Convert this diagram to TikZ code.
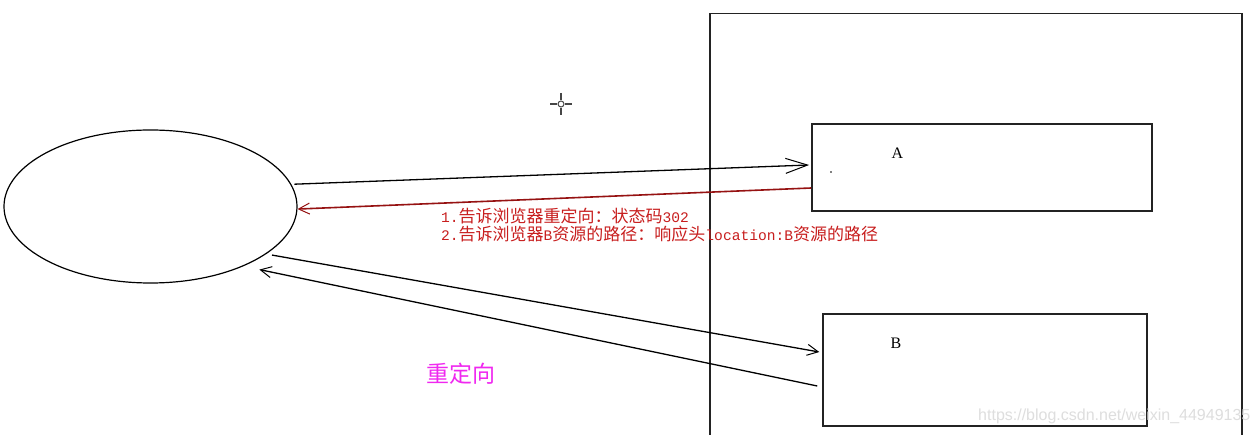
\documentclass[tikz,border=0pt]{standalone}
\usepackage{fontspec}
\setmainfont{Liberation Serif}
\newfontfamily\cjk{Noto Sans CJK SC}
\newfontfamily\monofnt{Liberation Mono}
\newfontfamily\wmfont{Liberation Sans}
\usetikzlibrary{arrows.meta,shapes.geometric}
\definecolor{redtext}{RGB}{200,30,30}
\definecolor{redline}{RGB}{150,18,18}
\definecolor{pinktext}{RGB}{240,40,240}
\definecolor{wmgray}{RGB}{222,222,222}
\definecolor{framecol}{RGB}{35,35,35}
\definecolor{crossgray}{RGB}{70,70,70}
\newcommand{\lat}[1]{{\monofnt\fontsize{14.6pt}{18pt}\selectfont #1}}
\begin{document}
\begin{tikzpicture}[x=1pt,y=-1pt,
  boxstyle/.style={draw=framecol,line width=1.8pt,rectangle,inner sep=0pt},
  conn/.style={line width=1.3pt,draw=black},
  bigtip/.style={-{Straight Barb[length=22pt,width=15pt,line width=1pt]}},
  smalltip/.style={-{Straight Barb[length=11pt,width=11pt,line width=1pt]}},
  redlabel/.style={text=redtext,inner sep=0pt,anchor=west},
  letter/.style={font=\fontsize{16pt}{16pt}\selectfont,inner sep=0pt}
]
\fill[white] (0,0) rectangle (1259,435);
\useasboundingbox (0,0) rectangle (1259,435);
\clip (0,0) rectangle (1259,435);

% server frame
\node[boxstyle,minimum width=532pt,minimum height=440pt] (server) at (975.75,233.5) {};
% boxes
\node[boxstyle,minimum width=340pt,minimum height=87pt] (A) at (982,167.5) {};
\node[boxstyle,line width=1.5pt,minimum width=324pt,minimum height=112pt] (B) at (985,370) {};
\node[letter] (Alab) at (897.5,153) {A};
\node[letter] (Blab) at (896,343) {B};
\fill (831,172) circle (0.8pt);

% browser ellipse
\node[ellipse,draw=black,line width=1.2pt,minimum width=293pt,minimum height=153pt,inner sep=0pt] (browser) at (150.5,206.5) {};

% connectors
\draw[conn,bigtip] ([xshift=3pt]browser.9.6) -- ([xshift=-2pt,yshift=2.5pt]A.west);
\draw[conn,draw=redline,line width=1.6pt,smalltip] ([yshift=-20.5pt]A.west) -- (browser.-1.4);
\draw[conn,smalltip] ([shift={(5pt,-1.5pt)}]browser.-22) -- ([xshift=-3pt,yshift=18pt]B.west);
\draw[conn,smalltip] ([xshift=-5pt,yshift=-16pt]B.west) -- ([shift={(10pt,-6pt)}]browser.-30);

% red labels
\node[redlabel] (lab1) at (441,216.5) {\lat{1.}\cjk\fontsize{17pt}{18pt}\selectfont 告诉浏览器重定向：状态码\lat{302}};
\node[redlabel] (lab2) at (441,234.5) {\lat{2.}\cjk\fontsize{17pt}{18pt}\selectfont 告诉浏览器\lat{B}资源的路径：响应头\lat{location:B}资源的路径};

% pink title
\node[text=pinktext,inner sep=0pt] (title) at (461,374) {\cjk\fontsize{23pt}{23pt}\selectfont 重定向};

% cursor crosshair
\draw[crossgray,line width=1pt] (561,104) circle (3pt);
\draw[crossgray,line width=1.8pt] (561,93) -- (561,100) (561,108) -- (561,115) (550,104) -- (557,104) (565,104) -- (572,104);

% watermark
\node[text=wmgray,inner sep=0pt,anchor=base west] (wm) at (978,421) {\wmfont\fontsize{16pt}{16pt}\selectfont https://blog.csdn.net/weixin\_44949135};
\end{tikzpicture}
\end{document}
